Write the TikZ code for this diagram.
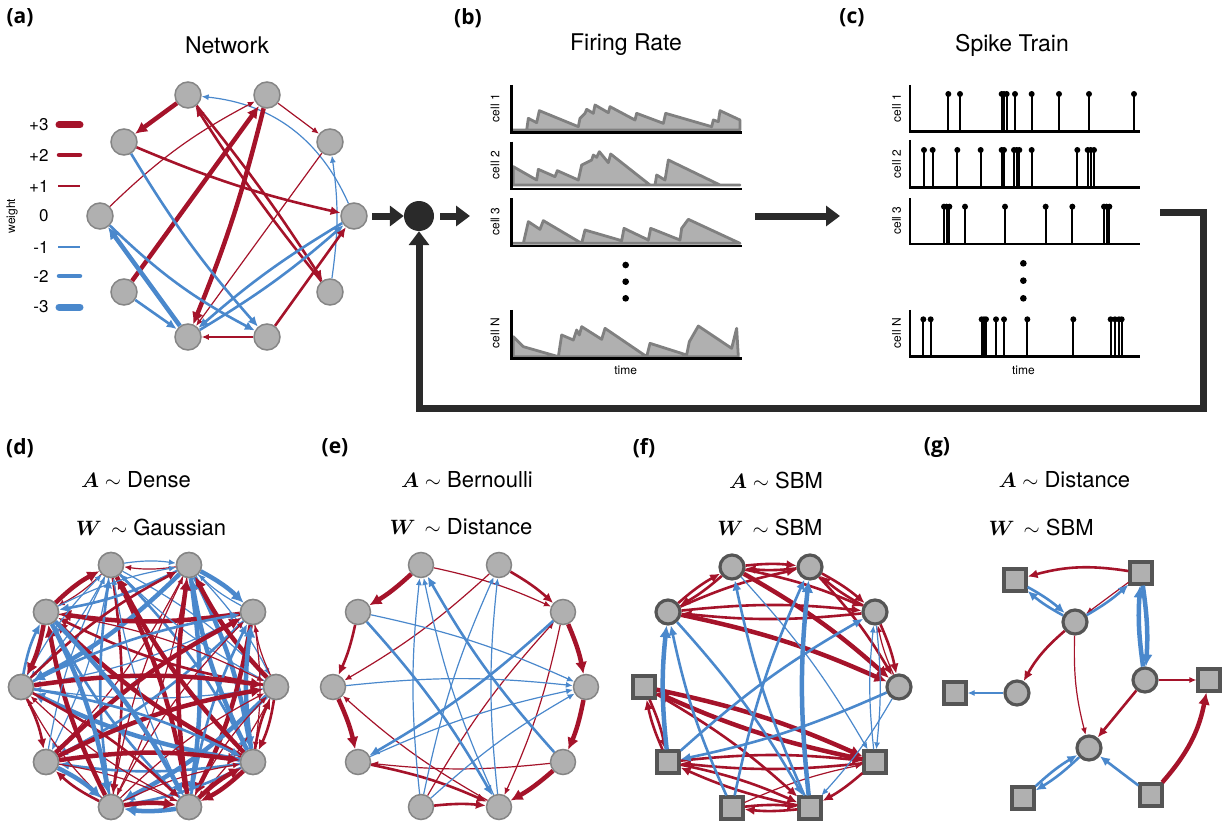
\documentclass[tikz,border=0pt]{standalone}
\usepackage{amsmath,bm}
\usepackage{fontspec}
\setmainfont{TeX Gyre Heros}
\setsansfont{TeX Gyre Heros}
\newfontfamily\lblfont{Open Sans}
\usetikzlibrary{arrows.meta}
\definecolor{rd}{HTML}{A5132A}
\definecolor{bl}{HTML}{4A88CC}
\definecolor{ndf}{HTML}{B0B0B0}
\definecolor{ndb}{HTML}{858585}
\definecolor{dk}{HTML}{555555}
\definecolor{blk}{HTML}{2A2A2A}
\tikzset{
 nd/.style={circle,draw=ndb,fill=ndf,line width=1.5pt,minimum size=26pt,inner sep=0pt},
 ndd/.style={circle,draw=ndb,fill=ndf,line width=1.5pt,minimum size=25pt,inner sep=0pt},
 ndc/.style={circle,draw=dk,fill=ndf,line width=3.2pt,minimum size=24pt,inner sep=0pt},
 nds/.style={rectangle,draw=dk,fill=ndf,line width=3.2pt,minimum size=22pt,inner sep=0pt},
 r1/.style={draw=rd,line width=1.2pt,-{Latex[length=7pt,width=6pt]}},
 r2/.style={draw=rd,line width=2.6pt,-{Latex[length=10pt,width=9pt]}},
 r3/.style={draw=rd,line width=4.5pt,-{Latex[length=12pt,width=12pt]}},
 b1/.style={draw=bl,line width=1.2pt,-{Latex[length=7pt,width=6pt]}},
 b2/.style={draw=bl,line width=2.6pt,-{Latex[length=10pt,width=9pt]}},
 b3/.style={draw=bl,line width=4.5pt,-{Latex[length=12pt,width=12pt]}},
 plbl/.style={font=\lblfont\bfseries\fontsize{21}{24}\selectfont},
 ttl/.style={font=\fontsize{23}{26}\selectfont},
 mth/.style={font=\fontsize{22}{26}\selectfont},
 cl/.style={rotate=90,font=\fontsize{12}{13}\selectfont},
 tm/.style={font=\fontsize{12}{13}\selectfont},
 fr/.style={fill=ndf,draw=gray,line width=2.8pt,line join=round},
 axs/.style={line width=2.6pt,draw=black},
 spk/.style={line width=2.2pt,draw=black},
 fat/.style={draw=blk,line width=7pt,-{Triangle[length=14pt,width=20pt]}},
 lg/.style={font=\fontsize{17}{18}\selectfont,anchor=east}
}
\begin{document}
\begin{tikzpicture}[x=1pt,y=-1pt]
\useasboundingbox (0,0) rectangle (1226,824);
% ---------- labels
\node[plbl] (la) at (20,18) {(a)};
\node[plbl] (lb) at (468,18) {(b)};
\node[plbl] (lc) at (852,18) {(c)};
\node[ttl] (ta) at (227,45) {Network};
\node[ttl] (tb) at (626,45) {Firing Rate};
\node[ttl] (tc) at (1012,45) {Spike Train};
% ---------- legend
\node[lg] (l1) at (52,125) {+3}; \draw[rd,line width=7pt,line cap=round] (59,125)--(80,125);
\node[lg] (l2) at (52,155) {+2}; \draw[rd,line width=4.5pt,line cap=round] (59,155)--(80,155);
\node[lg] (l3) at (52,186) {+1}; \draw[rd,line width=1.8pt] (58,186)--(80,186);
\node[lg] (l4) at (52,216) {0};
\node[lg] (l5) at (52,247) {-1}; \draw[bl,line width=1.8pt] (58,247)--(80,247);
\node[lg] (l6) at (52,276) {-2}; \draw[bl,line width=4.5pt,line cap=round] (59,276)--(80,276);
\node[lg] (l7) at (52,307) {-3}; \draw[bl,line width=7pt,line cap=round] (59,307)--(80,307);
\node[cl] (wt) at (12,216) {weight};
% ---------- network (a)
\node[nd] (a1) at (188,95) {};
\node[nd] (a2) at (267,95) {};
\node[nd] (a3) at (330,142) {};
\node[nd] (a4) at (354,216) {};
\node[nd] (a5) at (330,292) {};
\node[nd] (a6) at (267,337) {};
\node[nd] (a7) at (188,337) {};
\node[nd] (a8) at (124,292) {};
\node[nd] (a9) at (100,216) {};
\node[nd] (a10) at (124,142) {};
\draw[r3] (a1) -- (a10);
\draw[b1] (a4) to[bend right=30] (a1);
\draw[b1] (a5) to[bend right=8] (a3);
\draw[r1] (a2) -- (a3);
\draw[r2] (a1) to[bend left=3] (a5);
\draw[r2] (a5) to[bend left=3] (a1);
\draw[r1] (a9) to[bend left=8] (a2);
\draw[r3] (a8) -- (a2);
\draw[r3] (a2) to[bend left=4] (a7);
\draw[r1] (a3) -- (a7);
\draw[r2] (a10) to[bend right=5] (a4);
\draw[b2] (a10) to[bend right=5] (a6);
\draw[b3] (a7) -- (a9);
\draw[b2] (a8) -- (a7);
\draw[b2] (a4) to[bend right=5] (a7);
\draw[b2] (a7) to[bend right=5] (a4);
\draw[b2] (a9) to[bend right=8] (a6);
\draw[r2] (a6) -- (a4);
\draw[r1] (a6) -- (a7);
% summation
\node[circle,fill=blk,minimum size=30pt,inner sep=0pt] (sum) at (419,216) {};
\coordinate (s0) at (372,216);
\coordinate (s1) at (440,216);
\coordinate (s2) at (470,216);
\draw[fat] (s0) -- (sum);
\draw[fat] (s1) -- (s2);
% ---------- firing rates
\begin{scope}[shift={(480,70)},scale=1/3]
\draw[fr] (100,180)--(140,180)--(145,145)--(170,158)--(178,122)--(295,170)--(300,145)--(315,130)--(320,118)--(340,130)--(345,105)--(385,128)--(390,110)--(465,150)--(470,130)--(550,160)--(557,130)--(695,170)--(700,150)--(715,155)--(720,122)--(780,150)--(780,180)--cycle;
\draw[fr] (100,290)--(170,330)--(175,298)--(225,320)--(232,302)--(295,330)--(305,285)--(335,270)--(340,255)--(350,262)--(358,245)--(385,278)--(392,252)--(510,345)--(525,345)--(530,315)--(555,330)--(565,270)--(720,345)--(780,345)--(100,345)--cycle;
\draw[fr] (100,520)--(130,520)--(145,455)--(180,478)--(190,452)--(305,520)--(315,480)--(425,512)--(432,475)--(505,510)--(512,475)--(600,510)--(605,475)--(625,448)--(780,520)--cycle;
\draw[fr] (100,800)--(130,830)--(235,860)--(245,795)--(280,810)--(290,780)--(298,795)--(305,770)--(365,808)--(375,775)--(500,860)--(510,820)--(620,855)--(628,815)--(655,768)--(755,835)--(770,775)--(775,860)--(100,860)--cycle;
\draw[axs] (95,45)--(95,188)--(785,188);
\draw[axs] (95,215)--(95,357)--(785,357);
\draw[axs] (95,385)--(95,528)--(785,528);
\draw[axs] (95,720)--(95,865)--(785,865);
\node[cl] (fc1) at (45,115) {cell 1};
\node[cl] (fc2) at (45,285) {cell 2};
\node[cl] (fc3) at (45,455) {cell 3};
\node[cl] (fcn) at (45,790) {cell N};
\node[tm] (ft) at (437,900) {time};
\foreach \y in {585,635,685} \fill (437,\y) circle[radius=10];
\end{scope}
\coordinate (m0) at (755,216);
\coordinate (m1) at (840,216);
\draw[fat] (m0) -- (m1);
% ---------- spike trains
\begin{scope}[shift={(860,70)},scale=1/3]
\foreach \x in {265,300,425,432,440,465,515,597,687,822}{\draw[spk] (\x,185)--(\x,72); \fill (\x,72) circle[radius=9];}
\foreach \x in {192,218,292,362,425,432,462,470,478,515,652,683,692,702}{\draw[spk] (\x,352)--(\x,240); \fill (\x,240) circle[radius=9];}
\foreach \x in {252,260,268,315,435,557,637,732,740,748}{\draw[spk] (\x,522)--(\x,410); \fill (\x,410) circle[radius=9];}
\foreach \x in {190,212,365,372,378,408,432,502,640,752,765,777,785}{\draw[spk] (\x,860)--(\x,748); \fill (\x,748) circle[radius=9];}
\draw[axs] (150,45)--(150,185)--(840,185);
\draw[axs] (150,210)--(150,352)--(840,352);
\draw[axs] (150,385)--(150,522)--(840,522);
\draw[axs] (150,720)--(150,860)--(840,860);
\node[cl] (sc1) at (110,115) {cell 1};
\node[cl] (sc2) at (110,282) {cell 2};
\node[cl] (sc3) at (110,452) {cell 3};
\node[cl] (scn) at (110,790) {cell N};
\node[tm] (st) at (490,900) {time};
\foreach \y in {580,632,685} \fill (490,\y) circle[radius=10];
\end{scope}
% feedback
\coordinate (f0) at (1160,212);
\coordinate (f1) at (1203,212);
\coordinate (f2) at (1203,408);
\coordinate (f3) at (419,408);
\draw[draw=blk,line width=7pt,-{Triangle[length=14pt,width=20pt]}] (f0) -- (f1) -- (f2) -- (f3) -- (sum);
% ---------- bottom labels
\node[plbl] (ld) at (20,448) {(d)};
\node[plbl] (le) at (335,448) {(e)};
\node[plbl] (lf) at (644,448) {(f)};
\node[plbl] (lg) at (937,448) {(g)};
\node[mth] (md1) at (136,480) {$\bm{A}\sim$ Dense};
\node[mth] (md2) at (151,527) {$\bm{W}\,\sim$ Gaussian};
\node[mth] (me1) at (467,480) {$\bm{A}\sim$ Bernoulli};
\node[mth] (me2) at (461,527) {$\bm{W}\,\sim$ Distance};
\node[mth] (mf1) at (776,480) {$\bm{A}\sim$ SBM};
\node[mth] (mf2) at (770,527) {$\bm{W}\,\sim$ SBM};
\node[mth,anchor=west] (mg1) at (995,480) {$\bm{A}\sim$ Distance};
\node[mth,anchor=west] (mg2) at (985,527) {$\bm{W}\,\sim$ SBM};
% ---------- (d)
\node[ndd] (d1) at (111,565) {};
\node[ndd] (d2) at (189,565) {};
\node[ndd] (d3) at (253,612) {};
\node[ndd] (d4) at (276,687) {};
\node[ndd] (d5) at (253,762) {};
\node[ndd] (d6) at (189,807) {};
\node[ndd] (d7) at (111,807) {};
\node[ndd] (d8) at (46,762) {};
\node[ndd] (d9) at (21,687) {};
\node[ndd] (d10) at (46,612) {};
\pgfmathsetseed{11}
\foreach \i in {1,...,10}{\foreach \j in {1,...,10}{%
 \ifnum\i=\j\relax\else
 \pgfmathrandominteger{\rc}{0}{9}%
 \pgfmathrandominteger{\rw}{1}{3}%
 \ifnum\rc<4\relax\edef\tmp{\noexpand\draw[b\rw] (d\i) to[bend left=8] (d\j);}\else\edef\tmp{\noexpand\draw[r\rw] (d\i) to[bend left=8] (d\j);}\fi
 \ifnum\rc<8\relax\tmp\fi
 \fi}}
\foreach \i in {1,...,10}{\node[ndd] (dd\i) at (d\i) {};}
% ---------- (e)
\node[ndd] (e1) at (421,565) {};
\node[ndd] (e2) at (499,565) {};
\node[ndd] (e3) at (563,612) {};
\node[ndd] (e4) at (586,687) {};
\node[ndd] (e5) at (563,762) {};
\node[ndd] (e6) at (499,807) {};
\node[ndd] (e7) at (421,807) {};
\node[ndd] (e8) at (358,762) {};
\node[ndd] (e9) at (333,687) {};
\node[ndd] (e10) at (358,612) {};
\foreach \s/\t/\st in {1/10/r3,10/9/r2,9/8/r3,8/6/r2,7/6/r2,5/8/r1,2/3/r2,1/3/r1,2/9/r1,3/4/r3,4/5/r3,5/6/r3,6/9/r1,7/3/r1,3/6/r1,
 10/4/b1,10/6/b2,9/4/b1,3/8/b2,7/2/b1,6/1/b1,7/1/b1,6/2/b1,5/1/b2,8/4/b1,7/4/b1}
 {\edef\tmp{\noexpand\draw[\st] (e\s) to[bend left=6] (e\t);}\tmp}
% ---------- (f)
\node[ndc] (f1) at (732,567) {};
\node[ndc] (f2) at (810,567) {};
\node[ndc] (f3) at (875,612) {};
\node[ndc] (f4) at (899,687) {};
\node[nds] (f5) at (875,762) {};
\node[nds] (f6) at (810,808) {};
\node[nds] (f7) at (732,808) {};
\node[nds] (f8) at (668,762) {};
\node[nds] (f9) at (644,687) {};
\node[ndc] (f10) at (668,612) {};
\foreach \s/\t/\st in {1/2/r2,2/1/r2,10/1/r2,1/10/r2,10/2/r2,10/3/r2,3/10/r2,10/4/r3,1/4/r3,2/3/r2,3/2/r2,3/4/r2,4/3/r1,1/3/r2,2/4/r2,
 9/5/r3,5/9/r3,8/5/r2,5/8/r2,9/8/r2,8/9/r2,7/6/r2,6/7/r2,9/6/r2,8/6/r2,6/8/r2,5/6/r2,7/5/r1,
 8/10/b3,7/10/b2,6/2/b3,6/1/b2,7/2/b2,8/3/b2,5/3/b1,4/8/b2,10/6/b2,1/5/b1,3/5/b1,4/6/b1}
 {\edef\tmp{\noexpand\draw[\st] (f\s) to[bend left=6] (f\t);}\tmp}
% ---------- (g)
\node[nds] (g1) at (1015,580) {};
\node[nds] (g2) at (1141,573) {};
\node[ndc] (g3) at (1075,622) {};
\node[ndc] (g4) at (1017,693) {};
\node[nds] (g5) at (955,693) {};
\node[ndc] (g6) at (1145,680) {};
\node[nds] (g7) at (1209,680) {};
\node[ndc] (g8) at (1089,748) {};
\node[nds] (g9) at (1023,798) {};
\node[nds] (g10) at (1151,795) {};
\draw[r2] (g2) to[bend right=12] (g1);
\draw[b2] (g1) to[bend left=6] (g3);
\draw[b2] (g3) to[bend left=6] (g1);
\draw[r1] (g2) -- (g3);
\draw[b2] (g3) to[bend right=6] (g2);
\draw[b3] (g2) to[bend left=6] (g6);
\draw[b3] (g6) to[bend left=6] (g2);
\draw[r2] (g3) to[bend right=10] (g4);
\draw[b1] (g4) -- (g5);
\draw[r1] (g3) to[bend right=8] (g8);
\draw[r1] (g6) -- (g7);
\draw[r2] (g6) -- (g8);
\draw[b2] (g8) to[bend left=6] (g9);
\draw[b2] (g9) to[bend left=6] (g8);
\draw[b2] (g10) -- (g8);
\draw[r3] (g10) to[bend right=15] (g7);
\end{tikzpicture}
\end{document}
